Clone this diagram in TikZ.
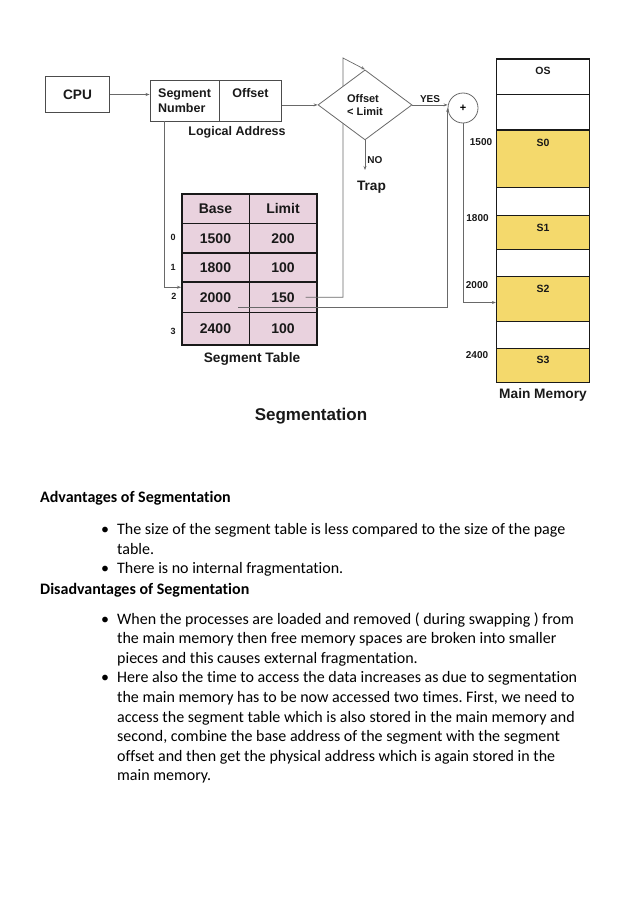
\documentclass[tikz,border=0pt]{standalone}
\usepackage{fontspec}
\setmainfont{Carlito}[Ligatures={NoCommon}]
\newfontfamily\diagfont{Liberation Sans}
\usetikzlibrary{shapes.geometric,arrows.meta}
\definecolor{segpink}{RGB}{233,210,222}
\definecolor{segyellow}{RGB}{244,217,108}
\definecolor{linegray}{RGB}{105,105,105}
\frenchspacing
\tikzset{
  conn/.style={draw=linegray, line width=0.7pt},
  lblL/.style={font=\diagfont\bfseries\fontsize{13.7}{16}\selectfont, text=black!90, inner sep=1pt},
  lblM/.style={font=\diagfont\bfseries\fontsize{12.5}{15}\selectfont, text=black!90, inner sep=1pt},
  lblS/.style={font=\diagfont\bfseries\fontsize{10}{12}\selectfont, text=black!90, inner sep=2pt},
  abox/.style={draw=black!70, line width=0.8pt, inner sep=0pt},
  tcell/.style={draw=black!90, line width=1.5pt, fill=segpink, minimum width=67.5pt, inner sep=0pt,
    font=\diagfont\bfseries\fontsize{14}{16}\selectfont, text=black!90},
  idx/.style={font=\diagfont\bfseries\fontsize{9}{11}\selectfont, text=black!90},
  mblock/.style={draw=black!90, line width=1.3pt, minimum width=93pt, inner sep=0pt, anchor=north},
  mtxt/.style={font=\diagfont\bfseries\fontsize{10.5}{12}\selectfont, text=black!90},
  chkbox/.style={diamond, draw=linegray, line width=0.8pt, fill=white, aspect=1.34, inner sep=0pt,
    minimum width=94pt, minimum height=70pt, align=left,
    font=\diagfont\bfseries\fontsize{11}{13}\selectfont, text=black!90},
  bodyln/.style={anchor=base west, inner sep=0pt, font=\fontsize{16}{19.6}\selectfont},
  bodyhd/.style={bodyln, font=\bfseries\fontsize{16}{19.6}\selectfont},
  bul/.style={anchor=base, inner sep=0pt, font=\fontsize{16}{19.6}\selectfont}
}
\begin{document}
\begin{tikzpicture}[x=1pt,y=-1pt,>={Stealth[length=4pt,width=3pt]}]
\useasboundingbox (0,0) rectangle (638,902);
% CPU and logical address
\node[abox, lblL, minimum width=64pt, minimum height=36.5pt] (cpu) at (77.5,94.5) {CPU};
\node[abox, lblM, minimum width=69.3pt, minimum height=41pt, align=left] (segnum) at (184.6,100.5) {Segment\\Number};
\node[abox, minimum width=62.4pt, minimum height=41pt] (offs) at (250.5,100.5) {};
\node[lblM] (offtxt) at (250.5,93) {Offset};
\node[lblM] (laddr) at (237,132) {Logical Address};
% segment table
\node[tcell, minimum height=29.5pt] (hbase) at (215.5,208.75) {Base};
\node[tcell, minimum height=29.5pt] (hlim) at (283,208.75) {Limit};
\node[tcell, minimum height=29.5pt] (base0) at (215.5,238.25) {1500};
\node[tcell, minimum height=29.5pt] (lim0) at (283,238.25) {200};
\node[tcell, minimum height=29pt] (base1) at (215.5,267.5) {1800};
\node[tcell, minimum height=29pt] (lim1) at (283,267.5) {100};
\node[tcell, minimum height=30.5pt] (base2) at (215.5,297.25) {2000};
\node[tcell, minimum height=30.5pt] (lim2) at (283,297.25) {150};
\node[tcell, minimum height=32.5pt] (base3) at (215.5,328.75) {2400};
\node[tcell, minimum height=32.5pt] (lim3) at (283,328.75) {100};
\node[idx] (idx0) at (173,237) {0};
\node[idx] (idx1) at (173,267) {1};
\node[idx] (idx2) at (174,296) {2};
\node[idx] (idx3) at (173,331) {3};
\node[lblL] (stbl) at (252,359) {Segment Table};
% main memory
\node[mblock, minimum height=35.7pt] (mOS) at (543,58.3) {};
\node[mblock, minimum height=35.3pt] (mF1) at (543,94) {};
\node[mblock, minimum height=57.4pt, fill=segyellow] (mS0) at (543,129.3) {};
\node[mblock, minimum height=28.3pt] (mF2) at (543,186.7) {};
\node[mblock, minimum height=34pt, fill=segyellow] (mS1) at (543,215) {};
\node[mblock, minimum height=27pt] (mF3) at (543,249) {};
\node[mblock, minimum height=44.7pt, fill=segyellow] (mS2) at (543,276) {};
\node[mblock, minimum height=27pt] (mF4) at (543,320.7) {};
\node[mblock, minimum height=34pt, fill=segyellow] (mS3) at (543,347.7) {};
\node[mtxt] (tOS) at ([yshift=-13pt]mOS.north) {OS};
\node[mtxt] (tS0) at ([yshift=-13.4pt]mS0.north) {S0};
\node[mtxt] (tS1) at ([yshift=-13pt]mS1.north) {S1};
\node[mtxt] (tS2) at ([yshift=-12.5pt]mS2.north) {S2};
\node[mtxt] (tS3) at ([yshift=-12.5pt]mS3.north) {S3};
\node[lblS] (a1500) at (481,142) {1500};
\node[lblS] (a1800) at (477.5,218) {1800};
\node[lblS] (a2000) at (477,285) {2000};
\node[lblS] (a2400) at (477,355) {2400};
\node[lblL] (mmem) at (543,395) {Main Memory};
% check and adder
\coordinate (lbend) at (343,58);
\coordinate (chktop) at (365,69.5);
\draw[conn,->] ([xshift=-12pt]lim2.east) -| (lbend) -- (chktop);
\node[chkbox, anchor=north] (chk) at (chktop) {Offset\\< Limit};
\node[circle, draw=linegray, line width=0.8pt, fill=white, minimum size=30pt, inner sep=0pt,
  font=\diagfont\bfseries\fontsize{11}{13}\selectfont] (plus) at (463,108) {+};
\coordinate (noend) at (365,170);
\node[lblL] (trap) at (371.5,187) {Trap};
% connectors
\draw[conn,->] (cpu.east) -- (cpu.east -| segnum.west);
\draw[conn,->] (offs.east |- chk.west) -- (chk.west);
\draw[conn,->] ([xshift=15pt]segnum.south west) |- ([yshift=10pt]base2.west);
\draw[conn,->] (chk.east) -- node[lblS, above] (yes) {YES} (chk.east -| plus.west);
\draw[conn,->] (chk.south) -- node[lblS, right, pos=0.67] (no) {NO} (noend);
\draw[conn,->] ([shift={(22.5pt,-10pt)}]base2.center) -| (plus.west);
\draw[conn,->] (plus.south) |- ([yshift=-3.5pt]mS2.west);
\node[font=\diagfont\bfseries\fontsize{17}{20}\selectfont, text=black!90] (title) at (311,416) {Segmentation};
% text
\node[bodyhd] (advhd) at (40,502) {Advantages of Segmentation};
\node[bul] (advb1) at (105,534.5) {\textbullet};
\node[bodyln] (advA) at (117,534.5) {The size of the segment table is less compared to the size of the page};
\node[bodyln] (advB) at (117,554) {table.};
\node[bul] (advb2) at (105,573.5) {\textbullet};
\node[bodyln] (advC) at (117,573.5) {There is no internal fragmentation.};
\node[bodyhd] (dishd) at (40,594) {Disadvantages of Segmentation};
\node[bul] (disb1) at (105,624) {\textbullet};
\node[bodyln] (disA) at (117,624) {When the processes are loaded and removed ( during swapping ) from};
\node[bodyln] (disB) at (117,643.6) {the main memory then free memory spaces are broken into smaller};
\node[bodyln] (disC) at (117,663.2) {pieces and this causes external fragmentation.};
\node[bul] (disb2) at (105,682.8) {\textbullet};
\node[bodyln] (disD) at (117,682.8) {Here also the time to access the data increases as due to segmentation};
\node[bodyln] (disE) at (117,702.4) {the main memory has to be now accessed two times. First, we need to};
\node[bodyln] (disF) at (117,722) {access the segment table which is also stored in the main memory and};
\node[bodyln] (disG) at (117,741.6) {second, combine the base address of the segment with the segment};
\node[bodyln] (disH) at (117,761.2) {offset and then get the physical address which is again stored in the};
\node[bodyln] (disI) at (117,780.8) {main memory.};
\end{tikzpicture}
\end{document}
